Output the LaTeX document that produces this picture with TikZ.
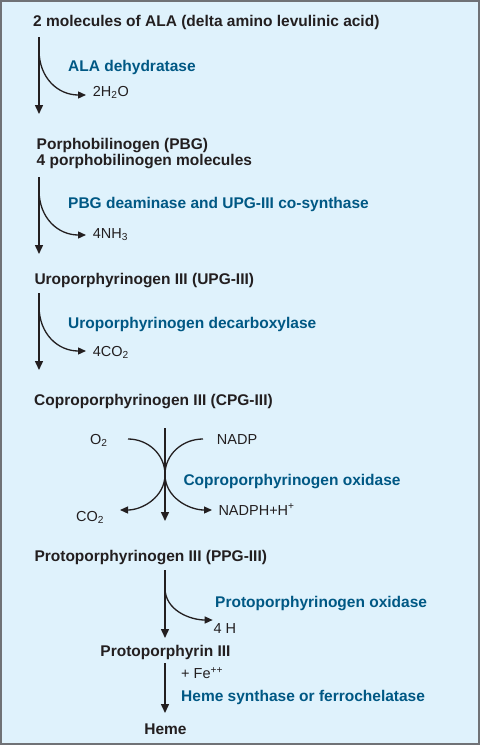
\documentclass[tikz,border=0pt]{standalone}
\usepackage{fontspec}
\setmainfont{Liberation Sans}
\usepackage{tikz}
\usetikzlibrary{positioning,arrows.meta}
\definecolor{fondo}{RGB}{223,242,252}
\definecolor{borde}{RGB}{112,114,118}
\definecolor{azulenz}{RGB}{0,88,132}
\definecolor{texto}{RGB}{35,31,32}

\begin{document}
\begin{tikzpicture}[x=1pt, y=-1pt,
  sustrato/.style={font=\fontsize{15.5}{18}\selectfont\bfseries, text=texto,
                   inner sep=0pt, anchor=base west},
  enz/.style={font=\fontsize{15.5}{18}\selectfont\bfseries, text=azulenz,
              inner sep=0pt, anchor=base west},
  producto/.style={font=\fontsize{14.5}{17}\selectfont, text=texto,
                   inner sep=0pt, anchor=base west},
  flecha/.style={draw=texto, line width=1.5pt,
                 -{Triangle[length=9pt,width=8pt]}},
  rama/.style={draw=texto, line width=1.3pt,
               -{Triangle[length=8pt,width=7pt]}},
]
% ---- Fondo ---------------------------------------------------------------
\fill[fondo] (0,0) rectangle (480,745);
\draw[borde, line width=2pt] (1,1) rectangle (479,744);
\useasboundingbox (0,0) rectangle (480,745);
% ---- Sustratos -----------------------------------------------------------
\node[sustrato] (ala) at (33,26.5)
  {2 molecules of ALA (delta amino levulinic acid)};
\node[sustrato] (pbg) at (36.5,149.5) {Porphobilinogen (PBG)};
\node[sustrato] (pbgcuatro) at (36.5,165.7) {4 porphobilinogen molecules};
\node[sustrato] (upg) at (34.3,284) {Uroporphyrinogen III (UPG-III)};
\node[sustrato] (cpg) at (34,405) {Coproporphyrinogen III (CPG-III)};
\node[sustrato] (ppg) at (34.3,561) {Protoporphyrinogen III (PPG-III)};
\node[sustrato, anchor=base] (proto) at (165.5,656.7) {Protoporphyrin III};
\node[sustrato, anchor=base] (heme) at (165.5,734.3) {Heme};
% ---- Tres primeros pasos -------------------------------------------------
\foreach \yt/\yr/\yb/\ye/\yp/\ep/\pro/\enzt [count=\i] in {
    37/50/114/95/96/71/2H\textsubscript{2}O/ALA dehydratase,
    177/190/254/235/238.5/208/4NH\textsubscript{3}/PBG deaminase and UPG-III co-synthase,
    293/306/370/351/356/328.3/4CO\textsubscript{2}/Uroporphyrinogen decarboxylase} {
  \coordinate (arriba\i) at (39,\yt);
  \coordinate (abajo\i) at (39,\yb);
  \coordinate (sale\i) at (39,\yr);
  \coordinate (llega\i) at (86,\ye);
  \node[producto] (prod\i) at (92.7,\yp) {\pro};
  \node[enz] (enz\i) at (68,\ep) {\enzt};
  \draw[flecha] (arriba\i) -- (abajo\i);
  \draw[rama] (sale\i) to[out=-90, in=180, looseness=1.1] (llega\i);
}
% ---- Coproporfirinogeno oxidasa ------------------------------------------
\coordinate (cpgarriba) at (165,428);
\coordinate (cpgabajo) at (165,521);
\coordinate (cruce) at (165,474.5);
\coordinate (entraizq) at (128,439);
\coordinate (saleizq) at (120,510);
\coordinate (entrader) at (203,439);
\coordinate (saleder) at (212,510);
\node[producto] (odos) at (90,444.5) {O\textsubscript{2}};
\node[producto] (nadp) at (216.7,444) {NADP};
\node[producto] (nadph) at (218.3,515) {NADPH+H\textsuperscript{+}};
\node[producto] (codos) at (76,521.7) {CO\textsubscript{2}};
\node[enz] (cox) at (183.3,485) {Coproporphyrinogen oxidase};
\draw[flecha] (cpgarriba) -- (cpgabajo);
\draw[rama] (entraizq) to[out=0, in=90] (cruce) to[out=-90, in=0] (saleizq);
\draw[rama] (entrader) to[out=180, in=90] (cruce) to[out=-90, in=180] (saleder);
% ---- Protoporfirinogeno oxidasa ------------------------------------------
\coordinate (ppgarriba) at (165,570);
\coordinate (ppgabajo) at (165,638);
\coordinate (ppgsale) at (165,588);
\coordinate (ppgllega) at (212.7,620);
\node[producto] (cuatroh) at (213.3,633.3) {4 H};
\node[enz] (ppox) at (215,607.3) {Protoporphyrinogen oxidase};
\draw[flecha] (ppgarriba) -- (ppgabajo);
\draw[rama] (ppgsale) to[out=-90, in=180] (ppgllega);
% ---- Ferroquelatasa ------------------------------------------------------
\coordinate (protoarriba) at (165,663);
\coordinate (protoabajo) at (165,713);
\node[producto] (hierro) at (181,678.3) {+ Fe\textsuperscript{++}};
\node[enz] (ferro) at (181,701) {Heme synthase or ferrochelatase};
\draw[flecha] (protoarriba) -- (protoabajo);
\end{tikzpicture}
\end{document}
